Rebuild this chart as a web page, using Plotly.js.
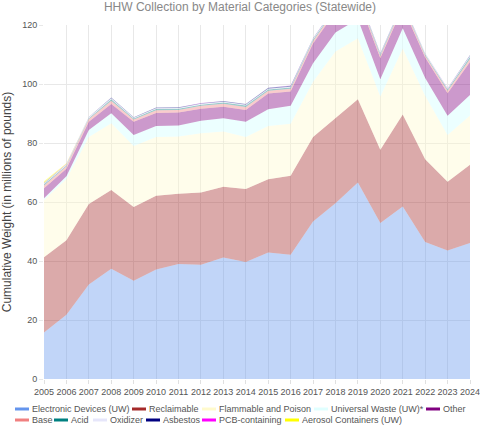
<!DOCTYPE html>
<html>
<head>
<meta charset="utf-8">
<script src="https://cdn.plot.ly/plotly-3.0.1.min.js"></script>
<style>
html,body{margin:0;padding:0;background:#fff;}
#chart{width:480px;height:426px;}
</style>
</head>
<body>
<div id="chart"></div>
<script>
// ---- data (millions of pounds) ----
const years = [2005,2006,2007,2008,2009,2010,2011,2012,2013,2014,2015,2016,2017,2018,2019,2020,2021,2022,2023,2024];
const yearLabels = years.map(String);

const electronicDevices = [15.8,21.8,32.0,37.4,33.3,37.1,39.0,38.7,41.2,39.7,42.9,42.1,53.4,59.6,66.6,52.9,58.5,46.4,43.6,46.1];
const reclaimable       = [25.5,25.2,27.3,26.7,25.0,25.0,23.8,24.5,24.0,24.7,24.8,26.8,28.6,28.9,28.2,24.8,31.2,28.1,23.3,26.5];
const flammablePoison   = [19.4,20.8,22.7,22.6,20.7,19.9,19.4,20.1,18.7,17.6,18.1,17.6,18.8,22.5,20.7,18.1,22.3,21.5,15.8,16.7];
const universalWaste    = [0.6,0.9,2.4,3.4,3.7,3.8,3.7,4.2,4.5,5.2,5.6,6.1,6.2,6.5,6.5,5.8,6.9,6.0,6.5,7.0];
const other             = [3.4,2.6,2.8,3.1,4.5,4.4,4.4,4.1,3.9,4.0,5.4,4.9,6.7,7.0,7.0,7.1,7.1,7.0,7.7,11.2];
const base              = [0.9,0.8,0.9,1.1,0.8,0.9,0.9,1.0,1.0,1.0,0.9,0.9,0.9,0.9,0.9,0.8,0.9,0.7,0.8,1.1];
const acid              = [0.4,0.3,0.3,0.5,0.3,0.4,0.4,0.4,0.4,0.5,0.4,0.4,0.4,0.4,0.4,0.4,0.4,0.3,0.4,0.6];
const oxidizer          = [0.3,0.3,0.3,0.4,0.3,0.3,0.3,0.3,0.3,0.3,0.3,0.3,0.3,0.3,0.3,0.3,0.3,0.3,0.3,0.4];
const asbestos          = [0.1,0.1,0.1,0.2,0.1,0.2,0.2,0.2,0.2,0.2,0.3,0.3,0.2,0.2,0.2,0.2,0.2,0.1,0.1,0.2];
const pcbContaining     = [0.05,0.05,0.05,0.05,0.05,0.05,0.05,0.05,0.05,0.05,0.05,0.05,0.05,0.05,0.05,0.05,0.05,0.05,0.05,0.05];
const aerosolContainers = [0.6,0.3,0,0,0,0,0,0,0,0,0,0,0,0,0,0,0,0,0,0];

const seriesNames = ["Electronic Devices (UW)","Reclaimable","Flammable and Poison","Universal Waste (UW)*","Other","Base","Acid","Oxidizer","Asbestos","PCB-containing","Aerosol Containers (UW)"];
const seriesValues = [electronicDevices,reclaimable,flammablePoison,universalWaste,other,base,acid,oxidizer,asbestos,pcbContaining,aerosolContainers];
const seriesColors = [[100,149,237],[165,42,42],[255,250,205],[224,255,255],[128,0,128],[240,128,128],[0,128,128],[230,230,250],[0,0,128],[255,0,255],[255,255,0]];
const fillAlpha    = [0.4,0.4,0.4,0.6,0.4,0.4,0.4,0.4,0.4,0.4,0.4];

// ---- layout constants ----
const W = 480, H = 426, ML = 44, MR = 10, MT = 25, MB = 47;
const PW = W - ML - MR, PH = H - MT - MB;
const px2x = p => (p - ML) / PW;
const py2y = p => (H - MB - p) / PH;

const traces = seriesNames.map((name, i) => ({
  type: 'scatter',
  mode: 'lines',
  name: name,
  x: years,
  y: seriesValues[i],
  stackgroup: 'one',
  line: {width: 0, color: 'rgb(' + seriesColors[i].join(',') + ')'},
  fillcolor: 'rgba(' + seriesColors[i].join(',') + ',' + fillAlpha[i] + ')',
  showlegend: false,
  hoverinfo: 'skip'
}));

// manual legend (two rows, compact, like the reference)
const legendRows = [
  {y: 409, items: [[0,32],[1,149],[2,219],[3,331],[4,443]]},
  {y: 420, items: [[5,32],[6,71],[7,110],[8,163],[9,219],[10,302]]}
];
const shapes = [], annotations = [];
legendRows.forEach(row => {
  row.items.forEach(([idx, tx]) => {
    shapes.push({type:'line', xref:'paper', yref:'paper',
      x0: px2x(tx - 17), x1: px2x(tx - 3), y0: py2y(row.y), y1: py2y(row.y),
      line: {color: 'rgb(' + seriesColors[idx].join(',') + ')', width: 3}});
    annotations.push({xref:'paper', yref:'paper', x: px2x(tx - 0.5), y: py2y(row.y),
      xanchor:'left', yanchor:'middle', showarrow:false, text: seriesNames[idx],
      borderpad: 0, borderwidth: 0,
      font:{family:'Liberation Sans, Arial, sans-serif', size:9, color:'#555'}});
  });
});

const layout = {
  width: W, height: H,
  margin: {l: ML, r: MR, t: MT, b: MB, pad: 0},
  paper_bgcolor: '#fff', plot_bgcolor: '#fff',
  font: {family: 'Liberation Sans, Arial, sans-serif', color: '#555', size: 9},
  title: {text: 'HHW Collection by Material Categories (Statewide)',
          font: {size: 12, color: '#888'}, x: 0.5, xanchor: 'center', y: 0.983, yanchor: 'middle'},
  showlegend: false,
  xaxis: {
    range: [2005, 2024], tickvals: years, ticktext: yearLabels,
    showgrid: true, gridcolor: '#e8e8e8', gridwidth: 1,
    ticks: 'outside', ticklen: 4, tickcolor: '#e0e0e0',
    ticklabeloverflow: 'allow',
    zeroline: false, showline: false, fixedrange: true,
    tickfont: {size: 9, color: '#555'}
  },
  yaxis: {
    range: [0, 120], tickvals: [0,20,40,60,80,100,120],
    showgrid: true, gridcolor: '#e8e8e8', gridwidth: 1,
    ticks: 'outside', ticklen: 4, tickcolor: '#e8e8e8',
    zeroline: false, showline: false, fixedrange: true,
    tickfont: {size: 9, color: '#555'},
    title: {text: 'Cumulative Weight (in millions of pounds)', font: {size: 12, color: '#444'}, standoff: 8}
  },
  shapes: shapes,
  annotations: annotations
};

Plotly.newPlot('chart', traces, layout, {staticPlot: true, displayModeBar: false});
</script>
</body>
</html>
